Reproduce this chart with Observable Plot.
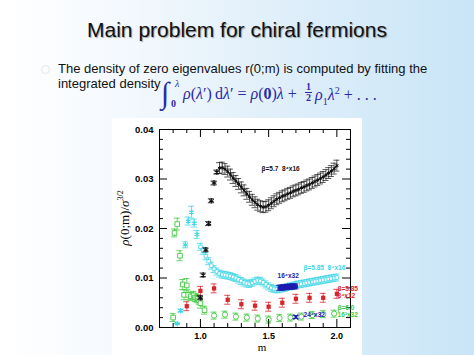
<!DOCTYPE html>
<html><head><meta charset="utf-8">
<script src="https://cdn.jsdelivr.net/npm/d3@7"></script>
<script src="https://cdn.jsdelivr.net/npm/@observablehq/plot@0.6"></script>
<style>
html,body{margin:0;padding:0;}
body{width:474px;height:355px;overflow:hidden;position:relative;
 background:linear-gradient(90deg,#ffffff 0%,#f6fafe 22%,#e2f0fa 55%,#c9e5f7 100%);
 font-family:"Liberation Sans",Arial,sans-serif;}
#title{position:absolute;left:0;width:474px;top:18px;text-align:center;font-size:21px;color:#111;
 text-shadow:1px 1px 1px rgba(0,0,0,0.35);white-space:nowrap;}
#bul{position:absolute;left:41px;top:65px;width:7px;height:7px;border-radius:50%;border:1px solid #e6e6e6;}
.t{position:absolute;left:58px;font-size:13px;line-height:13px;color:#111;white-space:nowrap;}
.f{position:absolute;font-family:"Liberation Serif","DejaVu Serif",serif;color:#2a2aa6;white-space:nowrap;line-height:1;}
.op{margin:0 4px;}
#panel{position:absolute;left:112px;top:118px;width:250px;height:237px;background:#fff;}
#chart{position:absolute;left:112px;top:118px;}
</style></head>
<body>
<div id="title">Main problem for chiral fermions</div>
<div id="bul"></div>
<div class="t" style="top:62px;">The density of zero eigenvalues r(0;m) is computed by fitting the</div>
<div class="t" style="top:77px;">integrated density</div>
<div class="f" style="left:161px;top:78px;font-size:30px;">∫</div>
<div class="f" style="left:175px;top:79px;font-size:10px;font-style:italic;">λ</div>
<div class="f" style="left:171px;top:99px;font-size:10px;font-weight:bold;">0</div>
<div class="f" style="left:183px;top:86px;font-size:16px;"><i>ρ</i>(<i>λ</i>′)&thinsp;d<i>λ</i>′<span class="op">=</span><i>ρ</i>(<b>0</b>)<i>λ</i><span class="op">+</span></div>
<div class="f" style="left:305px;top:82px;font-size:10px;font-weight:bold;text-align:center;line-height:10px;"><div style="border-bottom:1px solid #2a2aa6;padding:0 1px;">1</div><div>2</div></div>
<div class="f" style="left:315px;top:86px;font-size:16px;"><i>ρ</i><sub style="font-size:10px">1</sub><i>λ</i><sup style="font-size:10px">2</sup><span class="op">+</span>. . .</div>
<div id="panel"></div>
<div id="chart"></div>
<script>
// ---- data ----
const blackSparseM = [1.00,1.02,1.04,1.06,1.08,1.10,1.12];
const blackSparseV = [0.0060,0.0106,0.0157,0.0210,0.0256,0.0292,0.0314];
const blackSparseE = [0.0004,0.0004,0.0004,0.0004,0.0004,0.0004,0.0004];
const blackM = [1.14,1.16,1.18,1.20,1.22,1.24,1.26,1.28,1.30,1.32,1.34,1.36,1.38,1.40,1.42,1.44,1.46,1.48,1.50,1.52,1.54,1.56,1.58,1.60,1.62,1.64,1.66,1.68,1.70,1.72,1.74,1.76,1.78,1.80,1.82,1.84,1.86,1.88,1.90,1.92,1.94,1.96,1.98,2.00];
const blackV = [0.0322,0.0323,0.0320,0.0315,0.0309,0.0302,0.0296,0.0290,0.0283,0.0277,0.0270,0.0264,0.0258,0.0253,0.0248,0.0245,0.0243,0.0244,0.0247,0.0251,0.0255,0.0259,0.0262,0.0265,0.0267,0.0270,0.0272,0.0275,0.0277,0.0279,0.0282,0.0284,0.0287,0.0289,0.0292,0.0295,0.0298,0.0301,0.0304,0.0308,0.0312,0.0316,0.0321,0.0327];
const blackE = 0.0011;

const cyanSparseM = [0.83,0.855,0.89,0.91,0.935,0.955,0.975];
const cyanSparseV = [0.0008,0.0034,0.0167,0.0215,0.0233,0.0211,0.0188];
const cyanSparseE = [0.0000,0.0003,0.0006,0.0008,0.0012,0.0008,0.0008];
const cyanM = [1.00,1.02,1.04,1.06,1.08,1.10,1.12,1.14,1.16,1.18,1.20,1.22,1.24,1.26,1.28,1.30,1.32,1.34,1.36,1.38,1.40,1.42,1.44,1.46,1.48,1.50,1.52,1.54,1.56,1.58,1.60,1.62,1.64,1.66,1.68,1.70,1.72,1.74,1.76,1.78,1.80,1.82,1.84,1.86,1.88,1.90,1.92,1.94,1.96,1.98,2.00];
const cyanV = [0.0163,0.0155,0.0144,0.0134,0.0125,0.0118,0.0113,0.0109,0.0107,0.0106,0.0105,0.0104,0.0102,0.0100,0.0097,0.0094,0.0091,0.0089,0.0088,0.0090,0.0093,0.0095,0.0094,0.0091,0.0087,0.0083,0.0080,0.0078,0.0077,0.0078,0.0079,0.0080,0.0082,0.0083,0.0084,0.0086,0.0087,0.0088,0.0089,0.0090,0.0091,0.0092,0.0093,0.0094,0.0095,0.0096,0.0097,0.0098,0.0099,0.0100,0.0101];
const cyanE = 0.0007;

const redM = [0.9,1.0,1.1,1.2,1.3,1.4,1.5,1.6,1.7,1.8,1.9,2.0];
const redV = [0.0043,0.0074,0.0079,0.0056,0.0047,0.0044,0.0042,0.0050,0.0058,0.0060,0.0060,0.0068];
const redE = 0.0009;

const greenSqM = [0.80,0.81,0.83,0.85,0.87,0.88,0.90,0.91,0.93,0.95,0.96,0.97,0.98,0.99,1.00,1.03];
const greenSqV = [0.0020,0.0191,0.0209,0.0145,0.0087,0.0066,0.0085,0.0066,0.0063,0.0065,0.0061,0.0060,0.0058,0.0055,0.0049,0.0035];
const greenSqE = [0.0008,0.0008,0.0012,0.0010,0.0010,0.0010,0.0014,0.0010,0.0008,0.0008,0.0008,0.0008,0.0008,0.0008,0.0010,0.0008];
const greenCiM = [1.10,1.18,1.26,1.34,1.42,1.50,1.58,1.66,1.74,1.82,1.90,1.98];
const greenCiV = [0.0024,0.0026,0.0022,0.0020,0.0018,0.0016,0.0019,0.0020,0.0022,0.0025,0.0027,0.0028];
const greenCiE = 0.0007;

const blue16M = [1.58,1.59,1.60,1.61,1.62,1.63,1.64,1.65,1.66,1.67,1.68,1.69,1.70];
const blue16V = [0.0080,0.0081,0.0080,0.0081,0.0082,0.0081,0.0082,0.0082,0.0083,0.0082,0.0083,0.0083,0.0083];
const blue16E = 0.0005;
const blue24M = [1.70];
const blue24V = [0.0021];
const blue24E = 0.0003;

const xMajor = [1.0,1.5,2.0];
const xMinor = [0.8,0.9,1.1,1.2,1.3,1.4,1.6,1.7,1.8,1.9,2.1];
const yMajor = [0.00,0.01,0.02,0.03,0.04];
const yMinor = [0.002,0.004,0.006,0.008,0.012,0.014,0.016,0.018,0.022,0.024,0.026,0.028,0.032,0.034,0.036,0.038];
const xTickLabels = ["1.0","1.5","2.0"];
const yTickLabels = ["0.00","0.01","0.02","0.03","0.04"];

const seriesLabels = [
  {m:1.448, v:0.0321, text:"β=5.7  8⁴x16", color:"#111"},
  {m:1.756, v:0.0121, text:"β=5.85  8⁴x16", color:"#3fd6e6"},
  {m:1.565, v:0.0105, text:"16⁴x32", color:"#1c1cb0"},
  {m:2.005, v:0.0078, text:"β=5.85", color:"#d8252b"},
  {m:2.005, v:0.0063, text:"8⁴x12", color:"#d8252b"},
  {m:2.005, v:0.0040, text:"β=6.0", color:"#3cc83c"},
  {m:2.005, v:0.0025, text:"16³x32", color:"#3cc83c"},
  {m:1.756, v:0.0026, text:"24⁴x32", color:"#1c1cb0"}
];

// ---- build rows ----
const rows = (M, V, E) => M.map((m, i) => ({m, v: V[i], e: Array.isArray(E) ? E[i] : E}));
const blackS = rows(blackSparseM, blackSparseV, blackSparseE);
const blackD = rows(blackM, blackV, blackE);
const cyanS = rows(cyanSparseM, cyanSparseV, cyanSparseE);
const cyanD = rows(cyanM, cyanV, cyanE);
const red = rows(redM, redV, redE);
const greenS = rows(greenSqM, greenSqV, greenSqE);
const greenC = rows(greenCiM, greenCiV, greenCiE);
const blue16 = rows(blue16M, blue16V, blue16E);
const blue24 = rows(blue24M, blue24V, blue24E);

const CAP = 0.022;
function errbars(data, color, w = 0.8) {
  return [
    Plot.ruleX(data, {x: "m", y1: d => d.v - d.e, y2: d => d.v + d.e, stroke: color, strokeWidth: w}),
    Plot.ruleY(data, {y: d => d.v + d.e, x1: d => d.m - CAP, x2: d => d.m + CAP, stroke: color, strokeWidth: w}),
    Plot.ruleY(data, {y: d => d.v - d.e, x1: d => d.m - CAP, x2: d => d.m + CAP, stroke: color, strokeWidth: w})
  ];
}

const BLACK = "#111", CYAN = "#3fd6e6", RED = "#d8252b", GREEN = "#3cc83c", BLUE = "#1c1cb0";
const XT = 0.0586, XTm = 0.0293, YT = 0.00162, YTm = 0.00081;

const plot = Plot.plot({
  width: 250, height: 237,
  marginLeft: 47, marginRight: 12, marginTop: 11, marginBottom: 28,
  x: {domain: [0.7, 2.1]},
  y: {domain: [0, 0.04]},
  style: {background: "transparent", overflow: "visible", fontFamily: "'Liberation Sans', Arial, sans-serif"},
  marks: [
    // green
    ...errbars(greenS, GREEN),
    Plot.dot(greenS, {x: "m", y: "v", symbol: "square", r: 2.6, stroke: GREEN, fill: "white", strokeWidth: 0.9}),
    ...errbars(greenC, GREEN),
    Plot.dot(greenC, {x: "m", y: "v", symbol: "circle", r: 2.6, stroke: GREEN, fill: "white", strokeWidth: 0.9}),
    // red
    ...errbars(red, RED),
    Plot.dot(red, {x: "m", y: "v", symbol: "square", r: 2.4, fill: RED}),
    // cyan
    ...errbars(cyanS, CYAN),
    Plot.dot(cyanS, {x: "m", y: "v", symbol: "asterisk", r: 2.6, stroke: CYAN, strokeWidth: 1.2}),
    ...errbars(cyanD, CYAN),
    Plot.dot(cyanD, {x: "m", y: "v", symbol: "square", r: 2.0, stroke: CYAN, fill: "white", strokeWidth: 0.8}),
    // blue
    ...errbars(blue16, BLUE),
    Plot.dot(blue16, {x: "m", y: "v", symbol: "square", r: 2.2, fill: BLUE}),
    ...errbars(blue24, BLUE),
    Plot.dot(blue24, {x: "m", y: "v", symbol: "times", r: 2.4, stroke: BLUE, strokeWidth: 1.4}),
    // black
    ...errbars(blackS, BLACK),
    Plot.dot(blackS, {x: "m", y: "v", symbol: "asterisk", r: 2.6, stroke: BLACK, strokeWidth: 1.1}),
    ...errbars(blackD, BLACK, 0.7),
    Plot.line(blackD, {x: "m", y: "v", stroke: BLACK, strokeWidth: 1.2}),
    Plot.dot(blackD, {x: "m", y: "v", symbol: "asterisk", r: 1.8, stroke: BLACK, strokeWidth: 1}),
    // frame & ticks
    Plot.frame({stroke: "#000", strokeWidth: 1}),
    Plot.ruleX(xMajor, {x: d => d, y1: 0, y2: YT, stroke: "#000"}),
    Plot.ruleX(xMinor, {x: d => d, y1: 0, y2: YTm, stroke: "#000"}),
    Plot.ruleX(xMajor, {x: d => d, y1: 0.04, y2: 0.04 - YT, stroke: "#000"}),
    Plot.ruleX(xMinor, {x: d => d, y1: 0.04, y2: 0.04 - YTm, stroke: "#000"}),
    Plot.ruleY(yMajor, {y: d => d, x1: 0.7, x2: 0.7 + XT, stroke: "#000"}),
    Plot.ruleY(yMinor, {y: d => d, x1: 0.7, x2: 0.7 + XTm, stroke: "#000"}),
    Plot.ruleY(yMajor, {y: d => d, x1: 2.1, x2: 2.1 - XT, stroke: "#000"}),
    Plot.ruleY(yMinor, {y: d => d, x1: 2.1, x2: 2.1 - XTm, stroke: "#000"}),
    Plot.axisX(xMajor, {tickSize: 0, tickPadding: 5, tickFormat: (d, i) => xTickLabels[i], fontSize: 9, fontWeight: "bold", label: null}),
    Plot.axisY(yMajor, {tickSize: 0, tickPadding: 6, tickFormat: (d, i) => yTickLabels[i], fontSize: 9.5, fontWeight: "bold", label: null}),
    Plot.text(["m"], {frameAnchor: "bottom", dx: 7, dy: 23, fontSize: 11, fontFamily: "'Liberation Serif', serif", fill: "#000"}),
    // series labels
    Plot.text(seriesLabels, {x: "m", y: "v", text: "text", fill: "color", textAnchor: "start", fontSize: 6.5, fontWeight: "bold"})
  ]
});
document.getElementById("chart").appendChild(plot);

// y axis label with superscript
const yl = d3.select(plot).append("text")
  .attr("transform", "translate(17,100) rotate(-90)")
  .attr("text-anchor", "middle")
  .attr("font-family", "'Liberation Serif', serif")
  .attr("font-size", 13)
  .attr("fill", "#000");
yl.append("tspan").attr("font-style", "italic").text("ρ");
yl.append("tspan").text("(0;m)/");
yl.append("tspan").attr("font-style", "italic").text("σ");
yl.append("tspan").attr("font-size", 8).attr("dy", -6).text("3/2");
</script>
</body></html>
